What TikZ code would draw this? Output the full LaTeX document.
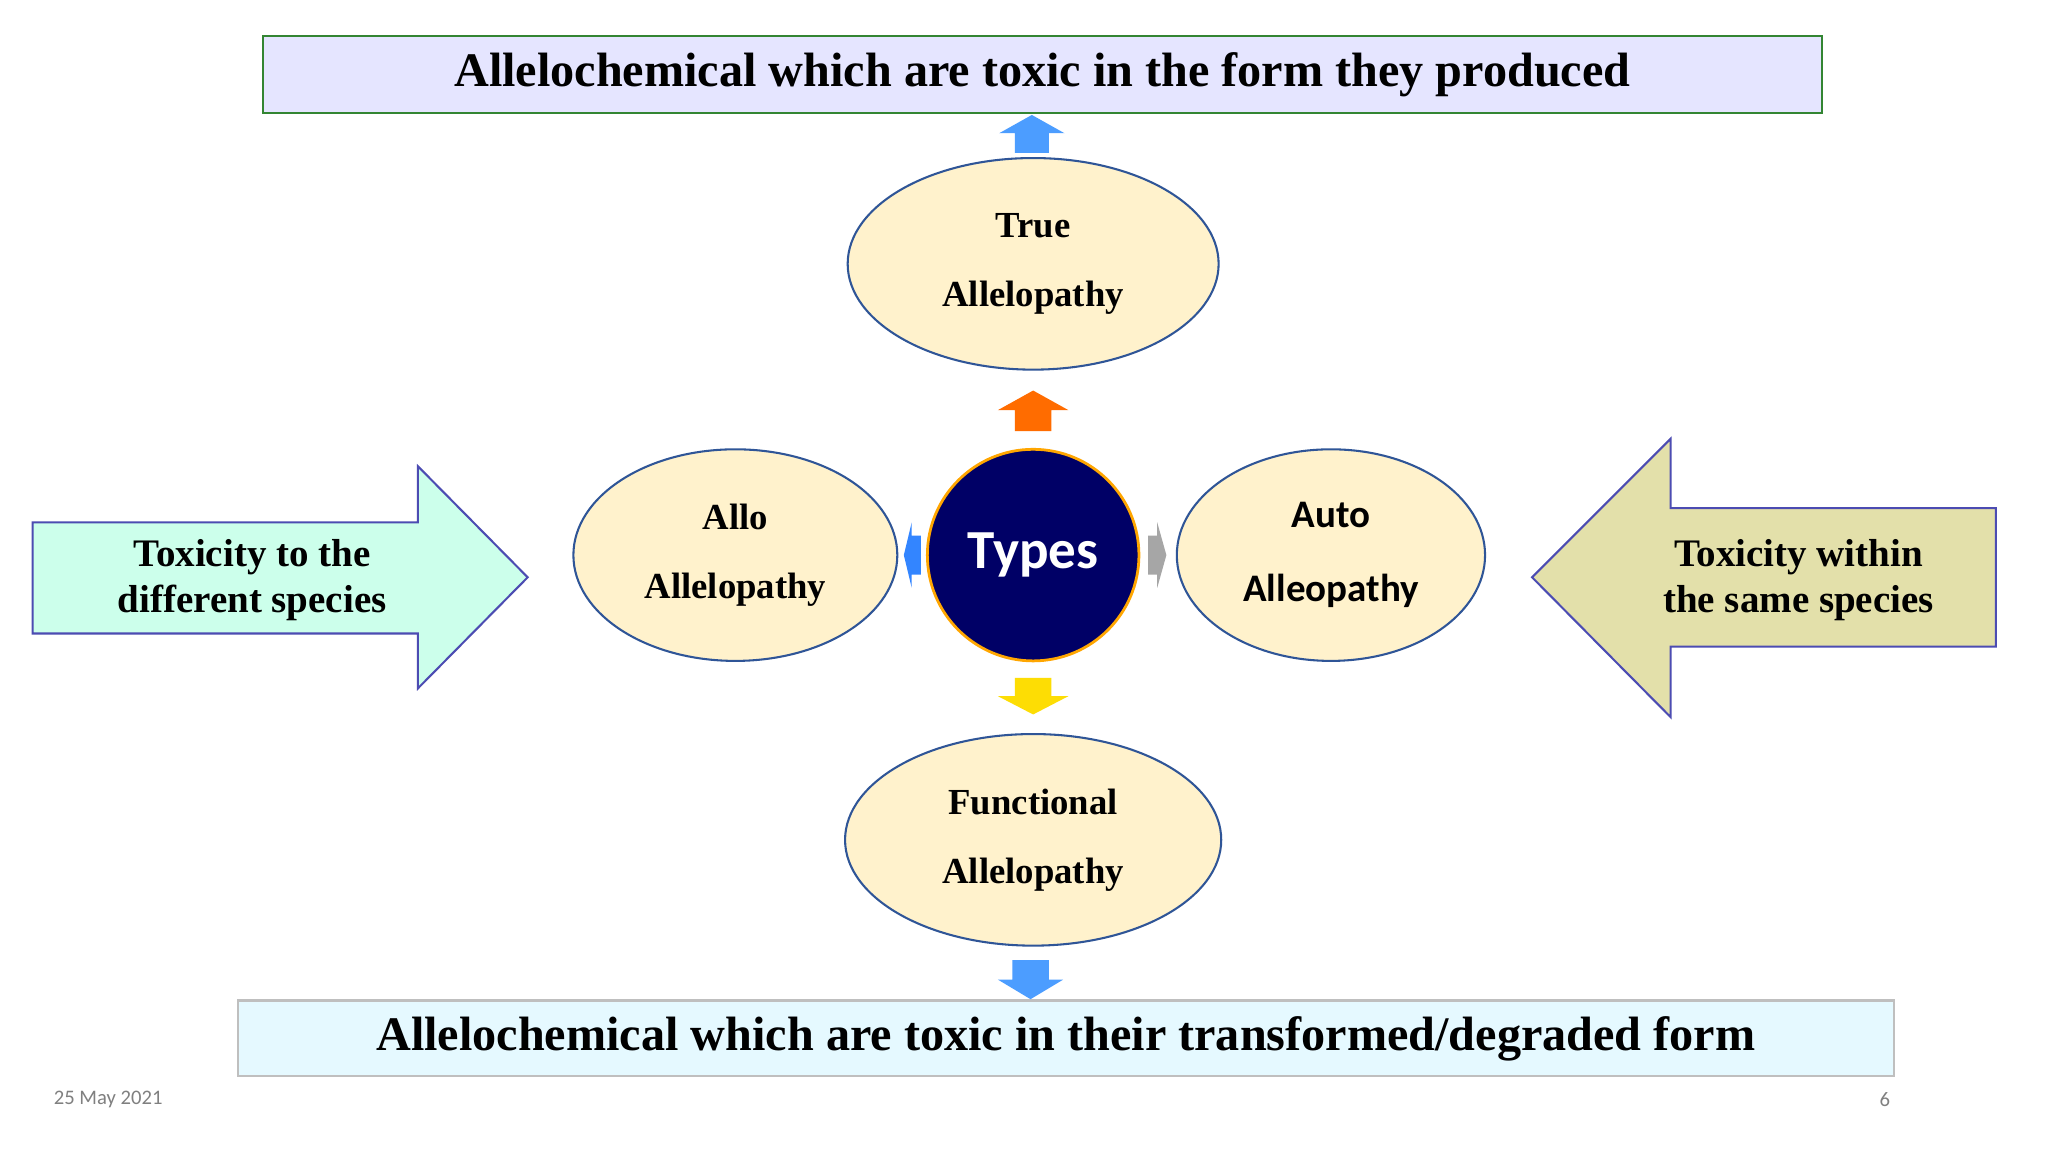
\documentclass[tikz,border=0pt]{standalone}
\usepackage{fontspec}
\setmainfont{Liberation Serif}
\newfontfamily\carlitofont{Carlito}
\usetikzlibrary{shapes.geometric}
\definecolor{ellf}{HTML}{FFF2CC}
\definecolor{elld}{HTML}{2F5597}
\tikzset{
 ell/.style={ellipse,draw=elld,fill=ellf,line width=0.9pt,align=center,font=\fontsize{16}{30}\selectfont\bfseries},
 bar/.style={draw,line width=0.9pt,font=\fontsize{21}{25}\selectfont\bfseries},
}
\begin{document}
\begin{tikzpicture}[x=0.02cm,y=-0.02cm]
\useasboundingbox[fill=white] (0,0) rectangle (1568,882);
% top / bottom bars
\node[bar,draw=green!40!black!80,fill=blue!10,minimum width=1194*0.02cm,minimum height=59*0.02cm] (top) at (798,57) {Allelochemical which are toxic in the form they produced};
\node[bar,draw=black!25,fill=blue!22!cyan!10,minimum width=1268*0.02cm,minimum height=58*0.02cm] (bot) at (816,795) {Allelochemical which are toxic in their transformed/degraded form};
% ellipses
\node[ell,minimum width=284*0.02cm,minimum height=162*0.02cm] (true) at (791,202) {True\\Allelopathy};
\node[ell,minimum width=248*0.02cm,minimum height=162*0.02cm] (allo) at (563,425) {Allo\\Allelopathy};
\node[ell,minimum width=236*0.02cm,minimum height=162*0.02cm,font=\carlitofont\fontsize{17}{32}\selectfont\bfseries] (auto) at (1019,425) {Auto\\Alleopathy};
\node[ell,minimum width=288*0.02cm,minimum height=162*0.02cm] (func) at (791,643) {Functional\\Allelopathy};
\node[circle,draw=orange!70!yellow,fill=blue!40!black,line width=1.2pt,minimum size=162*0.02cm,text=white,font=\carlitofont\fontsize{24}{28}\selectfont\bfseries] (types) at (791,425) {Types};
% small arrows
\fill[blue!55!cyan!70] (777,117) -- (777,102) -- (765,102) -- (790,88) -- (815,102) -- (803,102) -- (803,117) -- cycle;
\fill[orange!85!red] (777,330) -- (777,314) -- (764,314) -- (791,299) -- (818,314) -- (805,314) -- (805,330) -- cycle;
\fill[yellow!80!orange] (777,519) -- (777,533) -- (764,533) -- (791,547) -- (818,533) -- (805,533) -- (805,519) -- cycle;
\fill[blue!55!cyan!70] (775,735) -- (775,750) -- (764,750) -- (789,765) -- (814,750) -- (803,750) -- (803,735) -- cycle;
\fill[blue!60!cyan!80] (705,410) -- (698,410) -- (698,400) -- (692,425) -- (698,450) -- (698,440) -- (705,440) -- cycle;
\fill[gray!70] (879,410) -- (886,410) -- (886,400) -- (893,425) -- (886,450) -- (886,440) -- (879,440) -- cycle;
% big arrows
\draw[draw=blue!40!gray,fill=green!40!cyan!20!white,line width=0.9pt] (25,400) -- (320,400) -- (320,357) -- (404,442) -- (320,527) -- (320,485) -- (25,485) -- cycle;
\node[align=center,font=\fontsize{17}{20}\selectfont\bfseries] (lt) at (193,444) {Toxicity to the\\different species};
\draw[draw=blue!40!gray,fill=olive!25!white,line width=0.9pt] (1528,389) -- (1279,389) -- (1279,336) -- (1173,442) -- (1279,549) -- (1279,495) -- (1528,495) -- cycle;
\node[align=center,font=\fontsize{17}{20}\selectfont\bfseries] (rt) at (1377,444) {Toxicity within\\the same species};
% footer
\node[anchor=west,text=gray,font=\carlitofont\fontsize{9}{11}\selectfont] (date) at (35,842) {25 May 2021};
\node[text=gray,font=\carlitofont\fontsize{9}{11}\selectfont] (pg) at (1443,842) {6};
\end{tikzpicture}
\end{document}
